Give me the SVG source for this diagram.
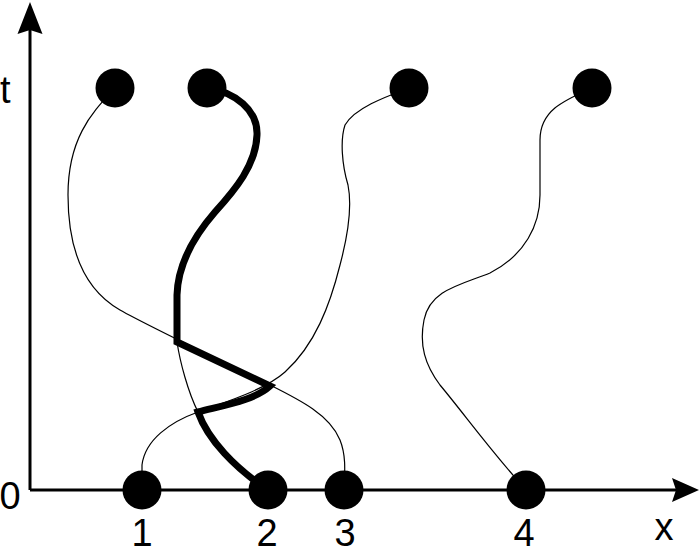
<svg xmlns="http://www.w3.org/2000/svg" width="700" height="550" viewBox="0 0 700 550">
<style>
.axis{stroke:#000;stroke-width:3;fill:none}
.thin{stroke:#000;stroke-width:1.2;fill:none}
.thick{stroke:#000;stroke-width:7;fill:none;stroke-linejoin:miter;stroke-linecap:round}
.dot{fill:#000}
.lbl{font-family:"Liberation Sans",Arial,sans-serif;font-size:38px;fill:#000}
</style>
<rect width="700" height="550" fill="#fff"/>
<g id="axes">
<line class="axis" x1="30" y1="490" x2="30" y2="28"/>
<line class="axis" x1="30" y1="490" x2="676" y2="490"/>
<polygon points="30,2 42.5,34 30,30 17.5,34" fill="#000"/>
<polygon points="699,490 672,502 676,490 672,478" fill="#000"/>
</g>
<g id="connectors">
<path class="thin" d="M115,88 C95,110 68,135 68,195 C68,250 85,290 120,310 C150,327 230,365 270,385 C300,400 330,415 340,440 C346,455 345,470 344,490"/>
<path class="thin" d="M409,88 C385,97 355,108 345,125 C340,140 342,165 348,185 C352,205 348,235 340,265 C330,305 315,345 285,372 C265,390 225,402 198,412 C170,422 145,440 142,465 L142,490"/>
<path class="thin" d="M177,342 C180,362 188,392 198,412 C208,440 235,468 268,490"/>
<path class="thin" d="M592,88 C565,100 540,110 540,140 L540,195 C540,225 525,255 490,273 C460,285 430,290 424,320 C419,345 425,365 440,385 C465,415 490,450 526,490"/>
<path class="thick" d="M207,88 C235,92 258,110 257,135 C256,165 235,190 215,212 C195,235 178,262 177,295 L177,342 L270,386 C255,400 225,405 198,412 C208,440 235,468 268,490"/>
</g>
<g id="top1"><circle class="dot" cx="115" cy="88" r="19.5"/></g>
<g id="top2"><circle class="dot" cx="207" cy="88" r="19.5"/></g>
<g id="top3"><circle class="dot" cx="409" cy="88" r="19.5"/></g>
<g id="top4"><circle class="dot" cx="592" cy="88" r="19.5"/></g>
<g id="bottom1"><circle class="dot" cx="142" cy="490" r="19.5"/></g>
<g id="bottom2"><circle class="dot" cx="268" cy="490" r="19.5"/></g>
<g id="bottom3"><circle class="dot" cx="344" cy="490" r="19.5"/></g>
<g id="bottom4"><circle class="dot" cx="526" cy="490" r="19.5"/></g>
<g id="labels">
<text class="lbl" x="0" y="103">t</text>
<text class="lbl" x="10" y="509" text-anchor="middle">0</text>
<text class="lbl" x="142" y="546" text-anchor="middle">1</text>
<text class="lbl" x="267" y="546" text-anchor="middle">2</text>
<text class="lbl" x="345" y="546" text-anchor="middle">3</text>
<text class="lbl" x="524" y="546" text-anchor="middle">4</text>
<text class="lbl" x="664" y="540" text-anchor="middle">x</text>
</g>
</svg>
